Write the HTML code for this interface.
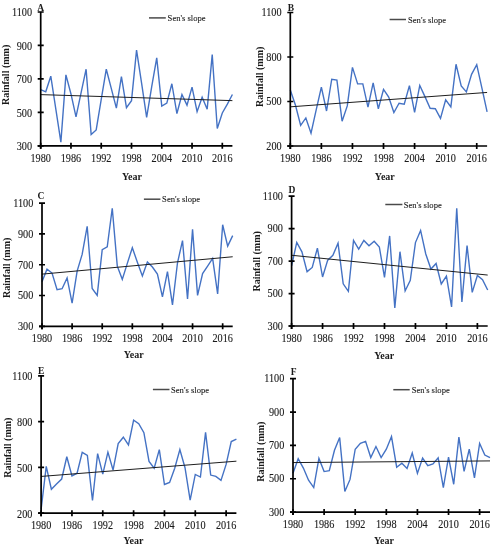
<!DOCTYPE html>
<html><head><meta charset="utf-8"><style>
html,body{margin:0;padding:0;background:#fff;}
body{width:494px;height:550px;overflow:hidden;}
svg{display:block;}
text{font-family:"Liberation Serif","Times New Roman",serif;fill:#1a1a1a;}
.yl{font-size:11.5px;text-anchor:end;stroke:#1a1a1a;stroke-width:0.12;}
.xl{font-size:11.5px;text-anchor:middle;stroke:#1a1a1a;stroke-width:0.12;}
.lt{font-size:9.5px;font-weight:bold;text-anchor:middle;}
.yr{font-size:10.0px;font-weight:bold;text-anchor:middle;}
.rn{font-size:10.0px;font-weight:bold;text-anchor:middle;}
.lgt{font-size:9.2px;stroke:#1a1a1a;stroke-width:0.1;}
.d{fill:none;stroke:#4472c4;stroke-width:1.4;stroke-linejoin:miter;}
.t{stroke:#1e1e1e;stroke-width:1.0;}
.lg{stroke:#4a4a4a;stroke-width:1.5;}
.ax{fill:none;stroke:#000;stroke-width:1.7;}
</style></head><body>
<svg width="494" height="550" viewBox="0 0 494 550">
<polyline class="d" points="40.7,89.6 45.74,91.78 50.79,76.22 55.83,109.17 60.88,142.12 65.92,74.89 70.97,93.95 76.01,116.87 81.06,92.95 86.1,69.2 91.15,134.43 96.19,129.91 101.24,99.47 106.28,69.2 111.33,88.6 116.37,108.17 121.42,76.56 126.46,107.67 131.51,100.64 136.55,50.13 141.59,83.08 146.64,117.37 151.68,86.93 156.73,57.83 161.77,106.16 166.82,103.15 171.86,83.75 176.91,113.52 181.95,94.45 187,105.16 192.04,87.1 197.09,111.68 202.13,97.3 207.18,109.17 212.22,54.65 217.27,128.57 222.31,113.02 227.36,104.15 232.4,94.45"/>
<line class="t" x1="40.7" y1="94.62" x2="232.4" y2="100.64"/>
<path class="ax" d="M40.7 12V148.8M37.7 145.8H232.4"/>
<text class="yl" transform="translate(32 150.1) scale(0.89 1)">300</text>
<text class="yl" transform="translate(32 116.65) scale(0.89 1)">500</text>
<text class="yl" transform="translate(32 83.2) scale(0.89 1)">700</text>
<text class="yl" transform="translate(32 49.75) scale(0.89 1)">900</text>
<text class="yl" transform="translate(32 16.3) scale(0.89 1)">1100</text>
<text class="xl" transform="translate(40.7 161.6) scale(0.89 1)">1980</text>
<text class="xl" transform="translate(70.97 161.6) scale(0.89 1)">1986</text>
<text class="xl" transform="translate(101.24 161.6) scale(0.89 1)">1992</text>
<text class="xl" transform="translate(131.51 161.6) scale(0.89 1)">1998</text>
<text class="xl" transform="translate(161.77 161.6) scale(0.89 1)">2004</text>
<text class="xl" transform="translate(192.04 161.6) scale(0.89 1)">2010</text>
<text class="xl" transform="translate(222.31 161.6) scale(0.89 1)">2016</text>
<path class="ax" d="M37.7 145.8H43.7M37.7 112.35H43.7M37.7 78.9H43.7M37.7 45.45H43.7M37.7 12H43.7M40.7 142.8V148.8M70.97 142.8V148.8M101.24 142.8V148.8M131.51 142.8V148.8M161.77 142.8V148.8M192.04 142.8V148.8M222.31 142.8V148.8"/>
<text class="lt" x="40.7" y="10.6">A</text>
<text class="yr" x="132" y="179.5">Year</text>
<text class="rn" transform="translate(9.3 74.9) rotate(-90)">Rainfall (mm)</text>
<line class="lg" x1="149" y1="17.9" x2="165.8" y2="17.9"/>
<text class="lgt" transform="translate(167.6 21.2) scale(0.935 1)">Sen's slope</text>
<polyline class="d" points="290.3,90.08 295.48,105.21 300.66,125.38 305.84,117.97 311.02,133.24 316.19,109.95 321.37,87.11 326.55,110.99 331.73,79.25 336.91,80.14 342.09,121.23 347.27,105.95 352.45,67.38 357.63,83.85 362.81,83.85 367.98,107.14 373.16,82.81 378.34,108.77 383.52,89.34 388.7,97.05 393.88,112.48 399.06,103.28 404.24,104.17 409.42,85.63 414.59,112.48 419.77,85.48 424.95,96.6 430.13,108.32 435.31,108.77 440.49,118.41 445.67,99.87 450.85,106.84 456.03,64.27 461.21,85.92 466.38,91.86 471.56,74.36 476.74,64.71 481.92,88.15 487.1,111.88"/>
<line class="t" x1="290.3" y1="106.84" x2="487.1" y2="92.45"/>
<path class="ax" d="M290.3 12.5V149M287.3 146H487.1"/>
<text class="yl" transform="translate(281.6 149.8) scale(0.89 1)">200</text>
<text class="yl" transform="translate(281.6 105.3) scale(0.89 1)">500</text>
<text class="yl" transform="translate(281.6 60.8) scale(0.89 1)">800</text>
<text class="yl" transform="translate(281.6 16.3) scale(0.89 1)">1100</text>
<text class="xl" transform="translate(290.3 161.8) scale(0.89 1)">1980</text>
<text class="xl" transform="translate(321.37 161.8) scale(0.89 1)">1986</text>
<text class="xl" transform="translate(352.45 161.8) scale(0.89 1)">1992</text>
<text class="xl" transform="translate(383.52 161.8) scale(0.89 1)">1998</text>
<text class="xl" transform="translate(414.59 161.8) scale(0.89 1)">2004</text>
<text class="xl" transform="translate(445.67 161.8) scale(0.89 1)">2010</text>
<text class="xl" transform="translate(476.74 161.8) scale(0.89 1)">2016</text>
<path class="ax" d="M287.3 146H293.3M287.3 101.5H293.3M287.3 57H293.3M287.3 12.5H293.3M290.3 143V149M321.37 143V149M352.45 143V149M383.52 143V149M414.59 143V149M445.67 143V149M476.74 143V149"/>
<text class="lt" x="291" y="10.5">B</text>
<text class="yr" x="384.8" y="180">Year</text>
<text class="rn" transform="translate(262.5 76.8) rotate(-90)">Rainfall (mm)</text>
<line class="lg" x1="389.6" y1="19.5" x2="406" y2="19.5"/>
<text class="lgt" transform="translate(408 22.5) scale(0.935 1)">Sen's slope</text>
<polyline class="d" points="42,281.68 47.02,269.21 52.04,273.06 57.06,289.68 62.07,288.75 67.09,277.98 72.11,303.22 77.13,271.06 82.15,254.44 87.17,226.28 92.18,288.45 97.2,295.37 102.22,249.67 107.24,246.75 112.26,208.28 117.28,266.13 122.29,279.37 127.31,263.37 132.33,247.67 137.35,262.29 142.37,275.98 147.39,261.98 152.41,267.06 157.42,273.98 162.44,296.91 167.46,271.67 172.48,304.91 177.5,262.75 182.52,240.59 187.53,299.06 192.55,229.36 197.57,295.37 202.59,273.52 207.61,266.13 212.63,258.44 217.64,293.83 222.66,224.74 227.68,246.13 232.7,235.67"/>
<line class="t" x1="42" y1="274.14" x2="232.7" y2="256.75"/>
<path class="ax" d="M42 203.2V329.3M39 326.3H232.7"/>
<text class="yl" transform="translate(33.3 330.1) scale(0.89 1)">300</text>
<text class="yl" transform="translate(33.3 299.32) scale(0.89 1)">500</text>
<text class="yl" transform="translate(33.3 268.55) scale(0.89 1)">700</text>
<text class="yl" transform="translate(33.3 237.78) scale(0.89 1)">900</text>
<text class="yl" transform="translate(33.3 207) scale(0.89 1)">1100</text>
<text class="xl" transform="translate(42 342.1) scale(0.89 1)">1980</text>
<text class="xl" transform="translate(72.11 342.1) scale(0.89 1)">1986</text>
<text class="xl" transform="translate(102.22 342.1) scale(0.89 1)">1992</text>
<text class="xl" transform="translate(132.33 342.1) scale(0.89 1)">1998</text>
<text class="xl" transform="translate(162.44 342.1) scale(0.89 1)">2004</text>
<text class="xl" transform="translate(192.55 342.1) scale(0.89 1)">2010</text>
<text class="xl" transform="translate(222.66 342.1) scale(0.89 1)">2016</text>
<path class="ax" d="M39 326.3H45M39 295.52H45M39 264.75H45M39 233.97H45M39 203.2H45M42 323.3V329.3M72.11 323.3V329.3M102.22 323.3V329.3M132.33 323.3V329.3M162.44 323.3V329.3M192.55 323.3V329.3M222.66 323.3V329.3"/>
<text class="lt" x="41" y="198.6">C</text>
<text class="yr" x="133.7" y="357.8">Year</text>
<text class="rn" transform="translate(9.5 267.8) rotate(-90)">Rainfall (mm)</text>
<line class="lg" x1="143.9" y1="199.2" x2="160.4" y2="199.2"/>
<text class="lgt" transform="translate(162.1 202.2) scale(0.935 1)">Sen's slope</text>
<polyline class="d" points="291.6,265.81 296.76,242.44 301.92,251.85 307.08,271.65 312.24,267.43 317.4,248.12 322.56,277 327.72,260.13 332.88,255.26 338.04,243.25 343.21,283.81 348.37,291.28 353.53,240.49 358.69,249.09 363.85,240.49 369.01,245.85 374.17,241.31 379.33,246.98 384.49,277.32 389.65,235.95 394.81,307.83 399.97,251.69 405.13,290.95 410.29,280.25 415.45,242.6 420.61,230.43 425.77,253.96 430.93,269.05 436.09,263.53 441.26,283.98 446.42,276.03 451.58,306.85 456.74,208.37 461.9,301.99 467.06,245.52 472.22,292.41 477.38,275.54 482.54,279.6 487.7,289.98"/>
<line class="t" x1="291.6" y1="255.26" x2="487.7" y2="275.05"/>
<path class="ax" d="M291.6 196.2V329M288.6 326H487.7"/>
<text class="yl" transform="translate(282.9 329.8) scale(0.89 1)">300</text>
<text class="yl" transform="translate(282.9 297.35) scale(0.89 1)">500</text>
<text class="yl" transform="translate(282.9 264.9) scale(0.89 1)">700</text>
<text class="yl" transform="translate(282.9 232.45) scale(0.89 1)">900</text>
<text class="yl" transform="translate(282.9 200) scale(0.89 1)">1100</text>
<text class="xl" transform="translate(291.6 341.8) scale(0.89 1)">1980</text>
<text class="xl" transform="translate(322.56 341.8) scale(0.89 1)">1986</text>
<text class="xl" transform="translate(353.53 341.8) scale(0.89 1)">1992</text>
<text class="xl" transform="translate(384.49 341.8) scale(0.89 1)">1998</text>
<text class="xl" transform="translate(415.45 341.8) scale(0.89 1)">2004</text>
<text class="xl" transform="translate(446.42 341.8) scale(0.89 1)">2010</text>
<text class="xl" transform="translate(477.38 341.8) scale(0.89 1)">2016</text>
<path class="ax" d="M288.6 326H294.6M288.6 293.55H294.6M288.6 261.1H294.6M288.6 228.65H294.6M288.6 196.2H294.6M291.6 323V329M322.56 323V329M353.53 323V329M384.49 323V329M415.45 323V329M446.42 323V329M477.38 323V329"/>
<text class="lt" x="292" y="192.9">D</text>
<text class="yr" x="384.2" y="359.3">Year</text>
<text class="rn" transform="translate(260.3 261.3) rotate(-90)">Rainfall (mm)</text>
<line class="lg" x1="385.3" y1="204.5" x2="402.4" y2="204.5"/>
<text class="lgt" transform="translate(403.7 207.5) scale(0.935 1)">Sen's slope</text>
<polyline class="d" points="41.1,509.54 46.24,466.37 51.38,489.25 56.52,484.06 61.66,479.03 66.8,456.75 71.94,475.98 77.08,473.23 82.22,452.33 87.36,455.38 92.49,500.54 97.63,453.55 102.77,474.15 107.91,452.18 113.05,470.03 118.19,443.63 123.33,437.23 128.47,444.86 133.61,420.14 138.75,423.65 143.89,432.65 149.03,461.48 154.17,468.2 159.31,449.58 164.45,484.52 169.59,482.38 174.73,468.2 179.87,449.58 185.01,467.74 190.14,500.08 195.28,474.45 200.42,477.04 205.56,432.35 210.7,475.06 215.84,476.43 220.98,480.4 226.12,464.38 231.26,441.5 236.4,439.21"/>
<line class="t" x1="41.1" y1="476.43" x2="236.4" y2="461.18"/>
<path class="ax" d="M41.1 375.9V516.2M38.1 513.2H236.4"/>
<text class="yl" transform="translate(32.4 517.5) scale(0.89 1)">200</text>
<text class="yl" transform="translate(32.4 471.73) scale(0.89 1)">500</text>
<text class="yl" transform="translate(32.4 425.97) scale(0.89 1)">800</text>
<text class="yl" transform="translate(32.4 380.2) scale(0.89 1)">1100</text>
<text class="xl" transform="translate(41.1 529) scale(0.89 1)">1980</text>
<text class="xl" transform="translate(71.94 529) scale(0.89 1)">1986</text>
<text class="xl" transform="translate(102.77 529) scale(0.89 1)">1992</text>
<text class="xl" transform="translate(133.61 529) scale(0.89 1)">1998</text>
<text class="xl" transform="translate(164.45 529) scale(0.89 1)">2004</text>
<text class="xl" transform="translate(195.28 529) scale(0.89 1)">2010</text>
<text class="xl" transform="translate(226.12 529) scale(0.89 1)">2016</text>
<path class="ax" d="M38.1 513.2H44.1M38.1 467.43H44.1M38.1 421.67H44.1M38.1 375.9H44.1M41.1 510.2V516.2M71.94 510.2V516.2M102.77 510.2V516.2M133.61 510.2V516.2M164.45 510.2V516.2M195.28 510.2V516.2M226.12 510.2V516.2"/>
<text class="lt" x="41.2" y="373.5">E</text>
<text class="yr" x="133.4" y="544.3">Year</text>
<text class="rn" transform="translate(11.3 447.7) rotate(-90)">Rainfall (mm)</text>
<line class="lg" x1="152.9" y1="389.5" x2="169.5" y2="389.5"/>
<text class="lgt" transform="translate(171 392.6) scale(0.935 1)">Sen's slope</text>
<polyline class="d" points="293,473.25 298.18,458.74 303.37,468.08 308.55,480.25 313.74,487.59 318.92,458.41 324.11,471.58 329.29,470.75 334.47,450.24 339.66,437.56 344.84,491.42 350.03,479.42 355.21,449.24 360.39,443.4 365.58,441.4 370.76,457.57 375.95,446.57 381.13,457.57 386.32,449.24 391.5,436.56 396.68,467.24 401.87,463.24 407.05,468.41 412.24,453.07 417.42,473.41 422.61,458.07 427.79,465.58 432.97,463.91 438.16,457.74 443.34,487.59 448.53,457.07 453.71,484.25 458.89,437.06 464.08,471.41 469.26,449.24 474.45,477.92 479.63,443.4 484.82,455.07 490,457.57"/>
<line class="t" x1="293" y1="462.58" x2="490" y2="460.91"/>
<path class="ax" d="M293 378.7V515.1M290 512.1H490"/>
<text class="yl" transform="translate(284.3 515.6) scale(0.89 1)">300</text>
<text class="yl" transform="translate(284.3 482.25) scale(0.89 1)">500</text>
<text class="yl" transform="translate(284.3 448.9) scale(0.89 1)">700</text>
<text class="yl" transform="translate(284.3 415.55) scale(0.89 1)">900</text>
<text class="yl" transform="translate(284.3 382.2) scale(0.89 1)">1100</text>
<text class="xl" transform="translate(293 527.9) scale(0.89 1)">1980</text>
<text class="xl" transform="translate(324.11 527.9) scale(0.89 1)">1986</text>
<text class="xl" transform="translate(355.21 527.9) scale(0.89 1)">1992</text>
<text class="xl" transform="translate(386.32 527.9) scale(0.89 1)">1998</text>
<text class="xl" transform="translate(417.42 527.9) scale(0.89 1)">2004</text>
<text class="xl" transform="translate(448.53 527.9) scale(0.89 1)">2010</text>
<text class="xl" transform="translate(479.63 527.9) scale(0.89 1)">2016</text>
<path class="ax" d="M290 512.1H296M290 478.75H296M290 445.4H296M290 412.05H296M290 378.7H296M293 509.1V515.1M324.11 509.1V515.1M355.21 509.1V515.1M386.32 509.1V515.1M417.42 509.1V515.1M448.53 509.1V515.1M479.63 509.1V515.1"/>
<text class="lt" x="293.7" y="374.7">F</text>
<text class="yr" x="384" y="544.3">Year</text>
<text class="rn" transform="translate(264.3 451.7) rotate(-90)">Rainfall (mm)</text>
<line class="lg" x1="393.3" y1="389.7" x2="409.7" y2="389.7"/>
<text class="lgt" transform="translate(411.7 392.7) scale(0.935 1)">Sen's slope</text>
</svg>
</body></html>
